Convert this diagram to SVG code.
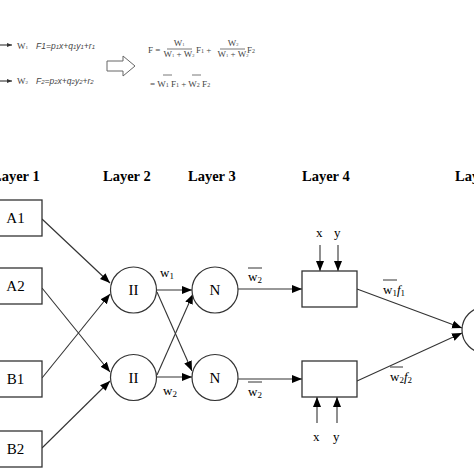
<svg xmlns="http://www.w3.org/2000/svg" width="474" height="474" viewBox="0 0 474 474">
<defs>
<marker id="ah" viewBox="0 0 10 10" refX="10" refY="5" markerWidth="10" markerHeight="10" markerUnits="userSpaceOnUse" orient="auto">
<path d="M0,1 L10,5 L0,9 Z" fill="#000"/>
</marker>
<marker id="as" viewBox="0 0 10 10" refX="10" refY="5" markerWidth="5" markerHeight="5" markerUnits="userSpaceOnUse" orient="auto">
<path d="M0,1 L10,5 L0,9 Z" fill="#333"/>
</marker>
</defs>
<style>
.lay{font-family:"Liberation Serif",serif;font-weight:bold;font-size:14.5px;fill:#000}
.nt{font-family:"Liberation Serif",serif;font-size:15px;fill:#000;text-anchor:middle}
.lb{font-family:"Liberation Serif",serif;font-size:13px;fill:#000}
.sub{font-size:9px}
.eq{font-family:"Liberation Serif",serif;font-size:9px;fill:#444}
.eqi{font-family:"Liberation Sans",sans-serif;font-style:italic;font-size:8.5px;fill:#444}
.box{fill:#fff;stroke:#333;stroke-width:1.3}
.cir{fill:#fff;stroke:#333;stroke-width:1.2}
.ln{stroke:#333;stroke-width:1.1;fill:none}
.ov{stroke:#333;stroke-width:1}
</style>
<rect width="474" height="474" fill="#fff"/>

<g id="equations">
<line x1="0" y1="45" x2="12" y2="45" class="ln" marker-end="url(#as)"/>
<line x1="0" y1="81" x2="12" y2="81" class="ln" marker-end="url(#as)"/>
<text x="17" y="49" class="eq">W<tspan font-size="5">1</tspan></text>
<text x="36" y="49" class="eqi">F1=p<tspan font-size="6">1</tspan>x+q<tspan font-size="6">1</tspan>y<tspan font-size="6">1</tspan>+r<tspan font-size="6">1</tspan></text>
<text x="17" y="84" class="eq">W<tspan font-size="5">2</tspan></text>
<text x="36" y="84" class="eqi">F<tspan font-size="6">2</tspan>=p<tspan font-size="6">2</tspan>x+q<tspan font-size="6">2</tspan>y<tspan font-size="6">2</tspan>+r<tspan font-size="6">2</tspan></text>
<path d="M107,61 L123,61 L123,56 L135,66 L123,76 L123,71 L107,71 Z" fill="#fff" stroke="#666" stroke-width="1"/>
<text x="148" y="53" class="eq" font-size="10">F =</text>
<text x="179" y="46" class="eq" font-size="7" text-anchor="middle">W<tspan font-size="4.5">1</tspan></text>
<line x1="167" y1="49" x2="192" y2="49" stroke="#555" stroke-width="0.8"/>
<text x="179" y="57" class="eq" font-size="7" text-anchor="middle">W<tspan font-size="4.5">1</tspan> + W<tspan font-size="4.5">2</tspan></text>
<text x="196" y="53" class="eq" font-size="10">F<tspan font-size="6">1</tspan> +</text>
<text x="233" y="46" class="eq" font-size="7" text-anchor="middle">W<tspan font-size="4.5">2</tspan></text>
<line x1="220" y1="49" x2="245" y2="49" stroke="#555" stroke-width="0.8"/>
<text x="233" y="57" class="eq" font-size="7" text-anchor="middle">W<tspan font-size="4.5">1</tspan> + W<tspan font-size="4.5">2</tspan></text>
<text x="247" y="53" class="eq" font-size="10">F<tspan font-size="6">2</tspan></text>
<text x="150" y="87" class="eq" font-size="10">=  W<tspan font-size="6">1</tspan> F<tspan font-size="6">1</tspan> + W<tspan font-size="6">2</tspan> F<tspan font-size="6">2</tspan></text>
<line x1="163" y1="75" x2="172" y2="75" stroke="#555" stroke-width="0.8"/>
<line x1="192" y1="75" x2="201" y2="75" stroke="#555" stroke-width="0.8"/>
</g>

<g id="layer-labels">
<text x="-8" y="181" class="lay">Layer 1</text>
<text x="103" y="181" class="lay">Layer 2</text>
<text x="188" y="181" class="lay">Layer 3</text>
<text x="302" y="181" class="lay">Layer 4</text>
<text x="455" y="181" class="lay">Layer 5</text>
</g>

<g id="connectors">
<line x1="42" y1="219" x2="110" y2="283" class="ln" marker-end="url(#ah)"/>
<line x1="42" y1="288" x2="110" y2="372" class="ln" marker-end="url(#ah)"/>
<line x1="42" y1="378" x2="110" y2="294" class="ln" marker-end="url(#ah)"/>
<line x1="42" y1="448" x2="110" y2="381" class="ln" marker-end="url(#ah)"/>
<line x1="157" y1="290" x2="192" y2="290" class="ln" marker-end="url(#ah)"/>
<line x1="157" y1="377" x2="192" y2="377" class="ln" marker-end="url(#ah)"/>
<line x1="157" y1="292" x2="192" y2="371" class="ln" marker-end="url(#ah)"/>
<line x1="157" y1="375" x2="193" y2="294" class="ln" marker-end="url(#ah)"/>
<line x1="238" y1="289" x2="302" y2="289" class="ln" marker-end="url(#ah)"/>
<line x1="238" y1="379" x2="302" y2="379" class="ln" marker-end="url(#ah)"/>
<line x1="320" y1="245" x2="320" y2="271" class="ln" marker-end="url(#ah)"/>
<line x1="338" y1="245" x2="338" y2="271" class="ln" marker-end="url(#ah)"/>
<line x1="317" y1="423" x2="317" y2="397" class="ln" marker-end="url(#ah)"/>
<line x1="337" y1="423" x2="337" y2="397" class="ln" marker-end="url(#ah)"/>
<line x1="357" y1="289" x2="462" y2="328" class="ln" marker-end="url(#ah)"/>
<line x1="357" y1="381" x2="462" y2="333" class="ln" marker-end="url(#ah)"/>
</g>

<g id="labels">
<text x="160" y="277" class="lb">w<tspan class="sub" dy="2">1</tspan></text>
<text x="163" y="395" class="lb">w<tspan class="sub" dy="2">2</tspan></text>
<line x1="248" y1="268" x2="262" y2="268" class="ov"/>
<text x="248" y="281" class="lb">w<tspan class="sub" dy="2">2</tspan></text>
<line x1="248" y1="382" x2="262" y2="382" class="ov"/>
<text x="248" y="396" class="lb">w<tspan class="sub" dy="2">2</tspan></text>
<text x="316" y="237" class="lb">x</text>
<text x="334" y="237" class="lb">y</text>
<text x="313" y="441" class="lb">x</text>
<text x="333" y="441" class="lb">y</text>
<line x1="383" y1="280" x2="397" y2="280" class="ov"/>
<text x="383" y="294" class="lb">w<tspan class="sub" dy="2">1</tspan><tspan dy="-2" font-style="italic">f</tspan><tspan class="sub" dy="2">1</tspan></text>
<line x1="390" y1="367" x2="403" y2="367" class="ov"/>
<text x="390" y="381" class="lb">w<tspan class="sub" dy="2">2</tspan><tspan dy="-2" font-style="italic">f</tspan><tspan class="sub" dy="2">2</tspan></text>
</g>

<g id="A1"><rect x="-11" y="200" width="53" height="36" class="box"/><text x="15.5" y="223" class="nt">A1</text></g>
<g id="A2"><rect x="-11" y="268" width="53" height="36" class="box"/><text x="15.5" y="291" class="nt">A2</text></g>
<g id="B1"><rect x="-11" y="361" width="53" height="36" class="box"/><text x="15.5" y="384" class="nt">B1</text></g>
<g id="B2"><rect x="-11" y="431" width="53" height="36" class="box"/><text x="15.5" y="454" class="nt">B2</text></g>
<g id="P1"><circle cx="133.5" cy="290" r="23" class="cir"/><text x="133.5" y="295" class="nt">II</text></g>
<g id="P2"><circle cx="133.5" cy="377.5" r="23" class="cir"/><text x="133.5" y="383" class="nt">II</text></g>
<g id="N1"><circle cx="215" cy="290" r="23" class="cir"/><text x="215" y="295" class="nt">N</text></g>
<g id="N2"><circle cx="215" cy="377.5" r="23" class="cir"/><text x="215" y="383" class="nt">N</text></g>
<g id="R1"><rect x="302" y="271" width="55" height="36" class="box"/></g>
<g id="R2"><rect x="302" y="361" width="55" height="36" class="box"/></g>
<g id="S"><circle cx="485" cy="330" r="23" class="cir"/></g>
</svg>
